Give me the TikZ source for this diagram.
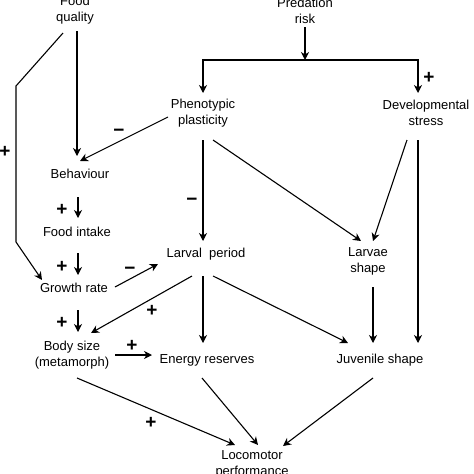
\documentclass[tikz,border=0pt]{standalone}
\usepackage{fontspec}
\setmainfont{Liberation Sans}
\usetikzlibrary{arrows.meta,calc}
\begin{document}
\begin{tikzpicture}[x=1pt,y=-1pt,
  lbl/.style={font=\fontsize{13}{16}\selectfont, align=center, inner sep=0pt},
  sgn/.style={font=\fontsize{19}{19}\selectfont\bfseries, inner sep=0pt},
  arr/.style={line width=1.1pt, -{Stealth[length=8pt,width=8pt,inset=2.5pt]}},
  ln/.style={line width=1.1pt}]
\useasboundingbox[fill=white] (0,0) rectangle (474,474);
% nodes
\node[lbl] (fq) at (75,10.5) {Food\\quality};
\node[lbl] (pr) at (305,10.5) {Predation\\risk};
\node[lbl] (pp) at (203,113) {Phenotypic\\plasticity};
\node[lbl] (ds) at (426,113) {Developmental\\stress};
\node[lbl] (beh) at (80,174) {Behaviour};
\node[lbl] (fi) at (77,232) {Food intake};
\node[lbl] (gr) at (74,288) {Growth rate};
\node[lbl] (lp) at (206,254) {Larval\ \ period};
\node[lbl] (ls) at (368,261.5) {Larvae\\shape};
\node[lbl] (bs) at (72,355) {Body size\\(metamorph)};
\node[lbl] (er) at (207,360) {Energy reserves};
\node[lbl] (js) at (380,360) {Juvenile shape};
\node[lbl] (loc) at (252,464) {Locomotor\\performance};
% signs
\node[sgn] (s1) at (5,152) {+};
\node[sgn] (s2) at (119,133) {\textminus};
\node[sgn] (s3) at (429,78) {+};
\node[sgn] (s4) at (192,202) {\textminus};
\node[sgn] (s5) at (62,210) {+};
\node[sgn] (s6) at (62,267) {+};
\node[sgn] (s7) at (62,323) {+};
\node[sgn] (s8) at (130,271) {\textminus};
\node[sgn] (s9) at (152,311) {+};
\node[sgn] (s10) at (132,346) {+};
\node[sgn] (s11) at (151,423) {+};
% coordinates
\coordinate (c1) at (16,86);
\coordinate (c2) at (16,242);
\coordinate (j) at (305,60);
% connectors
\draw[arr] ($(fq)+(2,20.5)$) -- ($(beh)+(-3,-18)$);
\draw[arr] ($(fq)+(-12,22.5)$) -- (c1) -- (c2) -- ($(gr)+(-32,-8)$);
\draw[arr] ($(pr)+(0,16.5)$) -- (j);
\draw[arr] (j) -| ($(pp)+(0,-20)$);
\draw[arr] (j) -| ($(ds)+(-8,-20)$);
\draw[arr] ($(pp)+(-35,4)$) -- ($(beh)+(0,-13)$);
\draw[arr] ($(pp)+(0,27)$) -- ($(lp)+(-3,-13)$);
\draw[arr] ($(pp)+(10,27)$) -- ($(ls)+(-7,-20.5)$);
\draw[arr] ($(ds)+(-19,27)$) -- ($(ls)+(5,-20.5)$);
\draw[arr] ($(ds)+(-8,27)$) -- ($(js)+(38,-17)$);
\draw[arr] ($(beh)+(-2,23)$) -- ($(fi)+(1,-14)$);
\draw[arr] ($(fi)+(1,21)$) -- ($(gr)+(4,-13)$);
\draw[arr] ($(gr)+(4,22)$) -- ($(bs)+(6,-23)$);
\draw[arr] ($(gr)+(41,-1)$) -- ($(lp)+(-48,10)$);
\draw[arr] ($(lp)+(-14,22)$) -- ($(bs)+(19,-22)$);
\draw[arr] ($(lp)+(-3,22)$) -- ($(er)+(-4,-17)$);
\draw[arr] ($(lp)+(7,22)$) -- ($(js)+(-32,-17)$);
\draw[arr] ($(ls)+(5,25.5)$) -- ($(js)+(-7,-17)$);
\draw[arr] ($(bs)+(43,0)$) -- ($(er)+(-55,-5)$);
\draw[arr] ($(bs)+(5,23)$) -- ($(loc)+(-17,-19)$);
\draw[arr] ($(er)+(-5,18)$) -- ($(loc)+(6,-19)$);
\draw[arr] ($(js)+(-7,18)$) -- ($(loc)+(31,-18)$);
\end{tikzpicture}
\end{document}
